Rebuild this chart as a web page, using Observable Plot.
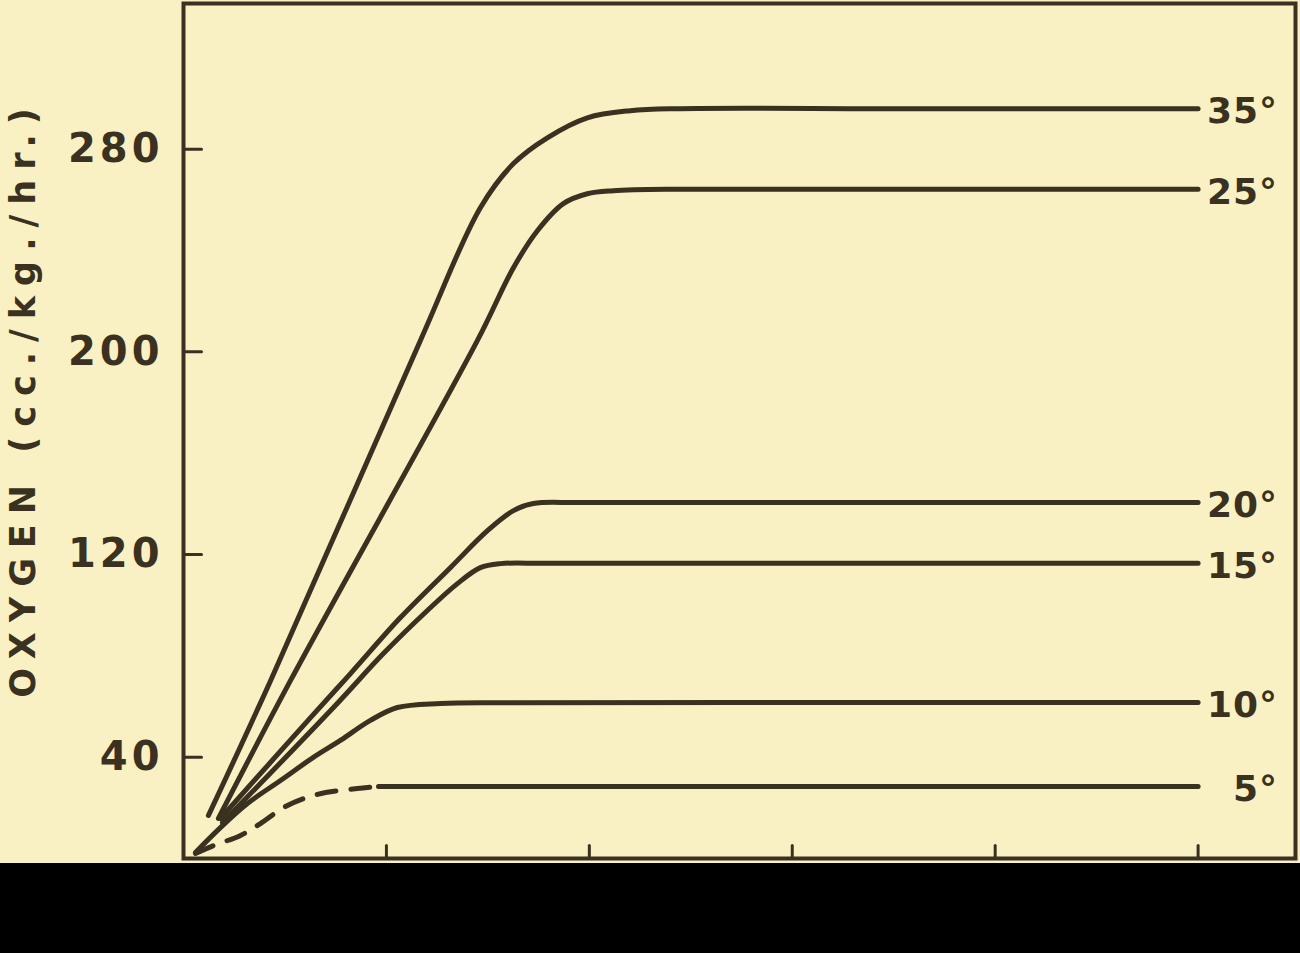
<!DOCTYPE html>
<html><head><meta charset="utf-8">
<script src="https://cdn.jsdelivr.net/npm/d3@7"></script>
<script src="https://cdn.jsdelivr.net/npm/@observablehq/plot@0.6"></script>
<style>
html,body{margin:0;padding:0;background:#000;}
#chart{width:1300px;height:863px;background:#f9f1c4;overflow:hidden;}
#band{width:1300px;height:90px;background:#000;}
</style></head><body>
<div id="chart"></div><div id="band"></div>
<script>
// Temperatures (labels) and curves: time (x) vs oxygen consumption (y)
const temps = ["35°", "25°", "20°", "15°", "10°", "5°"];

const x35 = [0.123, 0.429, 1.167, 1.463, 1.626, 1.793, 1.990, 2.202, 2.448, 3.5, 5.0];
const y35 = [17.0, 70.2, 204.4, 256.9, 274.3, 284.5, 292.4, 295.2, 296.0, 296.0, 296.0];

const x25 = [0.172, 0.527, 1.448, 1.626, 1.744, 1.872, 1.990, 2.118, 2.448, 3.5, 5.0];
const y25 = [15.8, 70.2, 204.4, 233.2, 247.8, 258.5, 262.4, 263.6, 264.2, 264.2, 264.2];

const x20 = [0.182, 0.626, 0.823, 1.069, 1.315, 1.498, 1.626, 1.724, 1.956, 3.5, 5.0];
const y20 = [15.8, 55.6, 73.0, 95.1, 114.8, 129.4, 137.3, 140.1, 140.5, 140.5, 140.5];

const x15 = [0.192, 0.739, 0.985, 1.202, 1.350, 1.463, 1.562, 1.8, 3.5, 5.0];
const y15 = [14.2, 59.6, 80.9, 97.9, 108.5, 114.8, 116.4, 116.5, 116.5, 116.5];

const x10 = [0.059, 0.182, 0.315, 0.478, 0.640, 0.773, 0.921, 1.054, 1.266, 1.6, 3.5, 5.0];
const y10 = [2.4, 12.2, 21.7, 30.8, 39.9, 46.6, 54.5, 59.6, 61.2, 61.5, 61.6, 61.6];

// 5° curve: dashed start, then solid
const x5dash = [0.059, 0.148, 0.281, 0.379, 0.502, 0.660, 0.857, 0.961];
const y5dash = [2.0, 5.1, 9.1, 13.8, 20.5, 25.3, 27.6, 28.4];
const x5 = [0.961, 5.0];
const y5 = [28.4, 28.4];

const yTicks = [40, 120, 200, 280];
const xTicks = [1, 2, 3, 4, 5];
const yTitle = "OXYGEN (cc./kg./hr.)";

const ink = "#3a3120";
const paper = "#f9f1c4";

const series = [[x35, y35], [x25, y25], [x20, y20], [x15, y15], [x10, y10], [x5, y5]];
const solid = [];
series.forEach(([xs, ys], k) => xs.forEach((x, i) => solid.push({t: temps[k], x, y: ys[i]})));
const dashed = x5dash.map((x, i) => ({t: "5°", x, y: y5dash[i]}));
const labels = series.map(([xs, ys], k) => ({t: temps[k], x: xs[xs.length - 1], y: ys[ys.length - 1]}));

const tickShape = {draw(ctx, l) { ctx.moveTo(0, 0); ctx.lineTo(0, -l); }};

const chart = Plot.plot({
  width: 1300, height: 863,
  marginLeft: 183, marginRight: 5, marginTop: 3, marginBottom: 5,
  style: {background: paper, fontFamily: "DejaVu Sans", color: ink},
  x: {domain: [0, 5.48], axis: null},
  y: {domain: [0, 337.5], axis: null},
  marks: [
    Plot.line(solid, {x: "x", y: "y", z: "t", stroke: ink, strokeWidth: 5, curve: "catmull-rom", strokeLinecap: "round", strokeLinejoin: "round"}),
    Plot.line(dashed, {x: "x", y: "y", stroke: ink, strokeWidth: 5, curve: "catmull-rom", strokeLinecap: "round", strokeDasharray: "19,15"}),
    Plot.vector(yTicks, {x: d => 0, y: d => d, length: 18, rotate: 90, anchor: "start", shape: tickShape, stroke: ink, strokeWidth: 3}),
    Plot.vector(xTicks, {x: d => d, y: d => 0, length: 13, rotate: 0, anchor: "start", shape: tickShape, stroke: ink, strokeWidth: 3}),
    Plot.text(yTicks, {x: d => 0, y: d => d, text: d => String(d), textAnchor: "end", dx: -20, fontSize: 40, fontWeight: "bold", fill: ink}),
    Plot.text(labels, {x: "x", y: "y", text: "t", textAnchor: "end", dx: 80, dy: 3, fontSize: 36, fontWeight: "bold", fill: ink}),
    Plot.text([yTitle], {frameAnchor: "left", rotate: -90, dx: -160, dy: -33, fontSize: 35, fontWeight: "bold", fill: ink, textAnchor: "middle", lineAnchor: "middle"}),
    Plot.frame({stroke: ink, strokeWidth: 4})
  ]
});
document.getElementById("chart").appendChild(chart);
chart.querySelectorAll("text").forEach(t => {
  const s = t.textContent;
  if (s === yTitle) t.setAttribute("letter-spacing", "10");
  else if (/^\d+$/.test(s)) t.setAttribute("letter-spacing", "4");
  else t.setAttribute("letter-spacing", "1");
});
</script></body></html>
